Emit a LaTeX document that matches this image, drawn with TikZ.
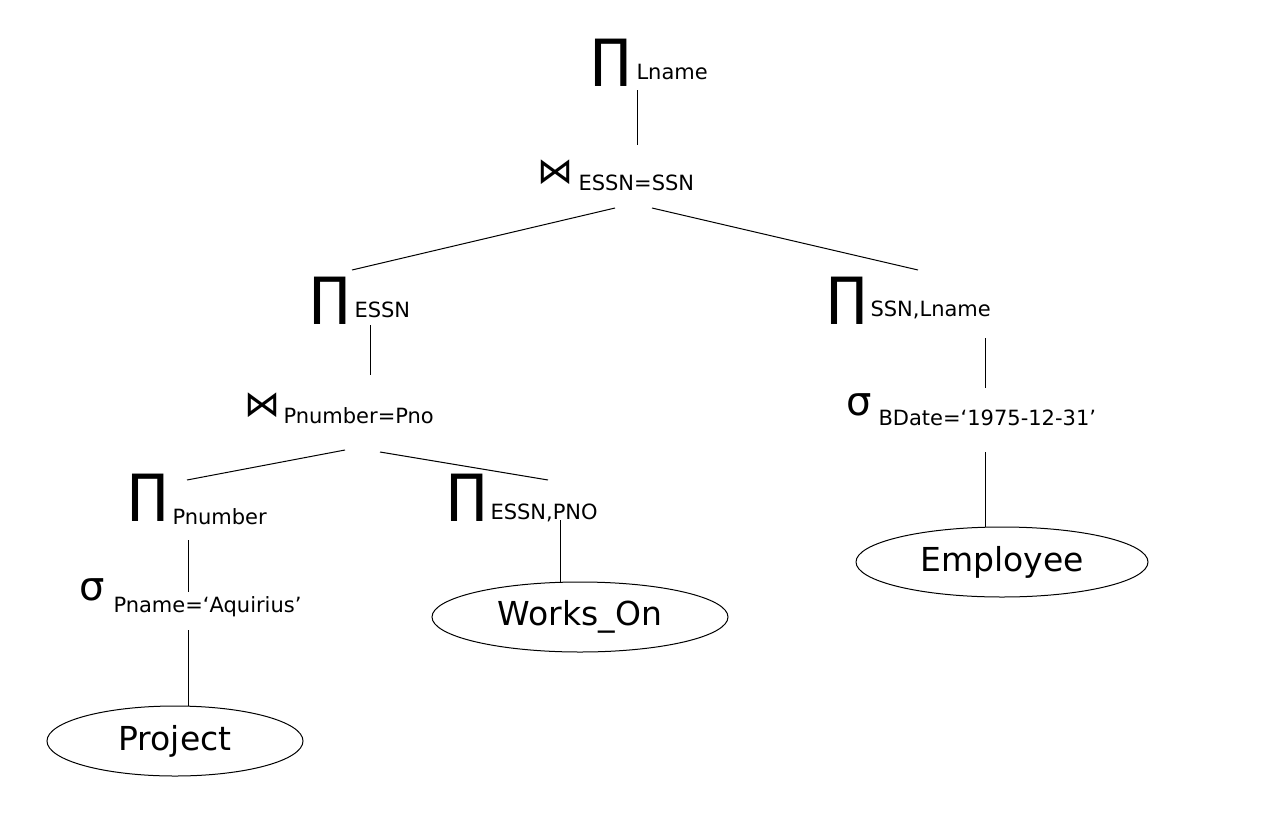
\documentclass[tikz,border=0pt]{standalone}
\usepackage{fontspec}
\setmainfont{DejaVu Sans}
\usetikzlibrary{shapes.geometric}
\begin{document}
\begin{tikzpicture}[x=1pt,y=-1pt,
  sym/.style={inner sep=0pt,font=\fontsize{52}{52}\selectfont},
  sg/.style={inner sep=0pt,font=\fontsize{40}{40}\selectfont},
  bt/.style={inner sep=0pt,font=\fontsize{36}{36}\selectfont},
  sub/.style={inner sep=0pt,anchor=west,font=\fontsize{21}{21}\selectfont},
  rel/.style={draw,ellipse,inner sep=0pt,line width=1pt,font=\fontsize{33}{33}\selectfont},
  every path/.style={line width=1pt}]
\useasboundingbox (0,0) rectangle (1284,816);
\node[sym] (p1) at (611,63) {∏};
\node[sub] (p1s) at (636,72) {Lname};
\node[bt] (j1) at (555,172) {⋈};
\node[sub] (j1s) at (578,183) {ESSN=SSN};
\node[sym] (p2) at (330,301) {∏};
\node[sub] (p2s) at (354,310) {ESSN};
\node[bt] (j2) at (262,405) {⋈};
\node[sub] (j2s) at (283,416) {Pnumber=Pno};
\node[sym] (p3) at (148,498) {∏};
\node[sub] (p3s) at (172,517) {Pnumber};
\node[sg] (s1) at (92,590) {σ};
\node[sub] (s1s) at (113,607) {Pname=‘Aquirius’};
\node[sym] (p4) at (467,498) {∏};
\node[sub] (p4s) at (490,513) {ESSN,PNO};
\node[sym] (p5) at (847,301) {∏};
\node[sub] (p5s) at (870,310) {SSN,Lname};
\node[sg] (s2) at (859,405) {σ};
\node[sub] (s2s) at (878,418) {BDate=‘1975-12-31’};
\node[rel,minimum width=256pt,minimum height=70pt] (proj) at (175,741) {Project};
\node[rel,minimum width=296pt,minimum height=70pt] (wo) at (580,617) {Works\_On};
\node[rel,minimum width=292pt,minimum height=70pt] (emp) at (1002,562) {Employee};
\coordinate (a1) at (637,90); \coordinate (a2) at (637,145);
\draw (a1) -- (a2);
\coordinate (b1) at (615,208); \coordinate (b2) at (352,270);
\coordinate (b3) at (652,208); \coordinate (b4) at (918,270);
\draw (b1) -- (b2); \draw (b3) -- (b4);
\coordinate (c1) at (370,325); \coordinate (c2) at (370,375);
\draw (c1) -- (c2);
\coordinate (d1) at (345,450); \coordinate (d2) at (187,480);
\coordinate (d3) at (380,452); \coordinate (d4) at (548,480);
\draw (d1) -- (d2); \draw (d3) -- (d4);
\coordinate (e1) at (188,540); \coordinate (e2) at (188,592);
\draw (e1) -- (e2);
\coordinate (f1) at (188,630);
\draw (f1) -- (proj.north -| f1);
\coordinate (g1) at (560,520);
\draw (g1) -- (wo.north -| g1);
\coordinate (h1) at (985,338); \coordinate (h2) at (985,388);
\draw (h1) -- (h2);
\coordinate (i1) at (985,452);
\draw (i1) -- (emp.north -| i1);
\end{tikzpicture}
\end{document}
